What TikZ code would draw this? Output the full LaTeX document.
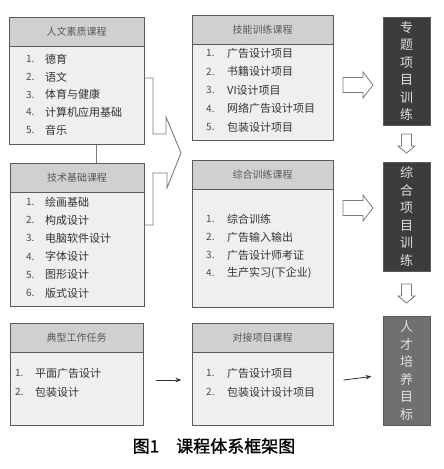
\documentclass[tikz,border=0pt]{standalone}
\usepackage{fontspec}
\setmainfont{Noto Sans CJK SC}
\newfontfamily\capfont{Noto Sans CJK SC}[FakeBold=1.2]
\usepackage{xcolor}
\usepackage{tikz}
\usetikzlibrary{positioning, arrows.meta, calc}

\definecolor{boxfill}{HTML}{EFEFEF}
\definecolor{headfill}{HTML}{D0D0D0}
\definecolor{frame}{HTML}{5A5A5A}
\definecolor{darkfill}{HTML}{3C3C3C}
\definecolor{midfill}{HTML}{707070}
\definecolor{arrowgray}{HTML}{7A7A7A}

\tikzset{
  course/.style={draw=frame, line width=1pt, fill=boxfill, inner sep=0pt},
  head/.style={draw=frame, line width=1pt, fill=headfill, inner sep=0pt, minimum height=29pt, anchor=north, text=black!65, font=\fontsize{10}{12}\selectfont},
  num/.style={anchor=west, inner sep=0pt, text=black!70, font=\fontsize{10}{12}\selectfont},
  item/.style={anchor=west, inner sep=0pt, text=black!80, font=\fontsize{11}{13}\selectfont},
  goal/.style={draw=frame, line width=1pt, fill=darkfill, minimum width=47pt, inner sep=0pt, align=center, text=black!12, font=\fontsize{13}{17.5}\selectfont},
  hollow/.style={draw=arrowgray, fill=white, line width=0.8pt, line join=miter},
}

\begin{document}
\begin{tikzpicture}[x=1pt, y=-1pt]
  \useasboundingbox (0,0) rectangle (444,469);

  % left column
  \node[course, minimum width=135pt, minimum height=127pt] (hum) at (76.5,80.5) {};
  \node[head, minimum width=135pt] (humh) at (hum.north) {人文素质课程};
  \foreach \t [count=\i] in {德育, 语文, 体育与健康, 计算机应用基础, 音乐} {
    \node[num] (humn\i) at (26,{59+(\i-1)*17.8}) {\i.};
    \node[item] (humi\i) at (45,{59+(\i-1)*17.8}) {\t};
  }

  \node[course, minimum width=134pt, minimum height=143pt] (tech) at (77,234.5) {};
  \node[head, minimum width=134pt] (techh) at (tech.north) {技术基础课程};
  \foreach \t [count=\i] in {绘画基础, 构成设计, 电脑软件设计, 字体设计, 图形设计, 版式设计} {
    \node[num] (techn\i) at (26,{202+(\i-1)*18.2}) {\i.};
    \node[item] (techi\i) at (45,{202+(\i-1)*18.2}) {\t};
  }

  \node[course, minimum width=133pt, minimum height=102pt] (task) at (76.5,374) {};
  \node[head, minimum width=133pt] (taskh) at (task.north) {典型工作任务};
  \foreach \t [count=\i] in {平面广告设计, 包装设计} {
    \node[num] (taskn\i) at (15,{373+(\i-1)*19}) {\i.};
    \node[item] (taski\i) at (35,{373+(\i-1)*19}) {\t};
  }

  % middle column
  \node[course, minimum width=141pt, minimum height=125pt] (skill) at (262.5,77.5) {};
  \node[head, minimum width=141pt] (skillh) at (skill.north) {技能训练课程};
  \foreach \t [count=\i] in {广告设计项目, 书籍设计项目, VI设计项目, 网络广告设计项目, 包装设计项目} {
    \node[num] (skilln\i) at (206,{53+(\i-1)*18.5}) {\i.};
    \node[item] (skilli\i) at (227,{53+(\i-1)*18.5}) {\t};
  }

  \node[course, minimum width=141pt, minimum height=147pt] (synth) at (262.5,233.5) {};
  \node[head, minimum width=141pt] (synthh) at (synth.north) {综合训练课程};
  \foreach \t [count=\i] in {综合训练, 广告输入输出, 广告设计师考证, 生产实习(下企业)} {
    \node[num] (synthn\i) at (206,{219+(\i-1)*18}) {\i.};
    \node[item] (synthi\i) at (227,{219+(\i-1)*18}) {\t};
  }

  \node[course, minimum width=141pt, minimum height=102pt] (dock) at (262.5,374) {};
  \node[head, minimum width=141pt] (dockh) at (dock.north) {对接项目课程};
  \foreach \t [count=\i] in {广告设计项目, 包装设计设计项目} {
    \node[num] (dockn\i) at (206,{373+(\i-1)*19}) {\i.};
    \node[item] (docki\i) at (227,{373+(\i-1)*19}) {\t};
  }

  % right column
  \node[goal, minimum height=108pt] (topic) at (406.5,71) {专\\题\\项\\目\\训\\练};
  \node[goal, minimum height=109pt] (whole) at (406.5,216.5) {综\\合\\项\\目\\训\\练};
  \node[goal, fill=midfill, minimum height=109pt] (talent) at (406.5,370.5) {人\\才\\培\\养\\目\\标};

  % hollow arrows
  \coordinate (ra1) at (358,85);
  \coordinate (ra2) at (358,208);
  \coordinate (da1) at ($(topic.south)!0.5!(whole.north)$);
  \coordinate (da2) at ($(whole.south)!0.5!(talent.north)$);
  \foreach \c in {ra1, ra2}
    \draw[hollow] (\c) ++(-15,-7.5) -- ++(20,0) -- ++(0,-5.5) -- ++(10,13) -- ++(-10,13) -- ++(0,-5.5) -- ++(-20,0) -- cycle;
  \foreach \c in {da1, da2}
    \draw[hollow] (\c) ++(-5,-9.5) -- ++(10,0) -- ++(0,12) -- ++(3.5,0) -- ++(-8.5,7) -- ++(-8.5,-7) -- ++(3.5,0) -- cycle;

  % merging bracket
  \coordinate (mtip) at (181,153);
  \draw[arrowgray, line width=0.9pt] (hum.east |- 0,78) -- (153,78) -- (153,134) -- (166,134) -- (166,117)
    -- (mtip) -- (167,188) -- (167,173) -- (153,173) -- (153,225) -- (tech.east |- 0,225);
  \draw[arrowgray, line width=0.9pt] ([xshift=20pt]hum.south) -- ([xshift=20pt]hum.south |- tech.north);

  % plain arrows
  \draw[-{Stealth[length=6pt]}, black!80, line width=0.8pt] ([xshift=12pt,yshift=-6pt]task.east) -- ([xshift=-10pt,yshift=-6pt]dock.west);
  \draw[-{Stealth[length=6pt]}, black!80, line width=0.8pt] ([xshift=10pt,yshift=-6pt]dock.east) -- ([xshift=-11pt,yshift=-6pt]talent.west);

  % caption
  \node[font=\capfont\fontsize{17}{20}\selectfont] (cap) at (214,446) {图1\quad 课程体系框架图};
\end{tikzpicture}
\end{document}
